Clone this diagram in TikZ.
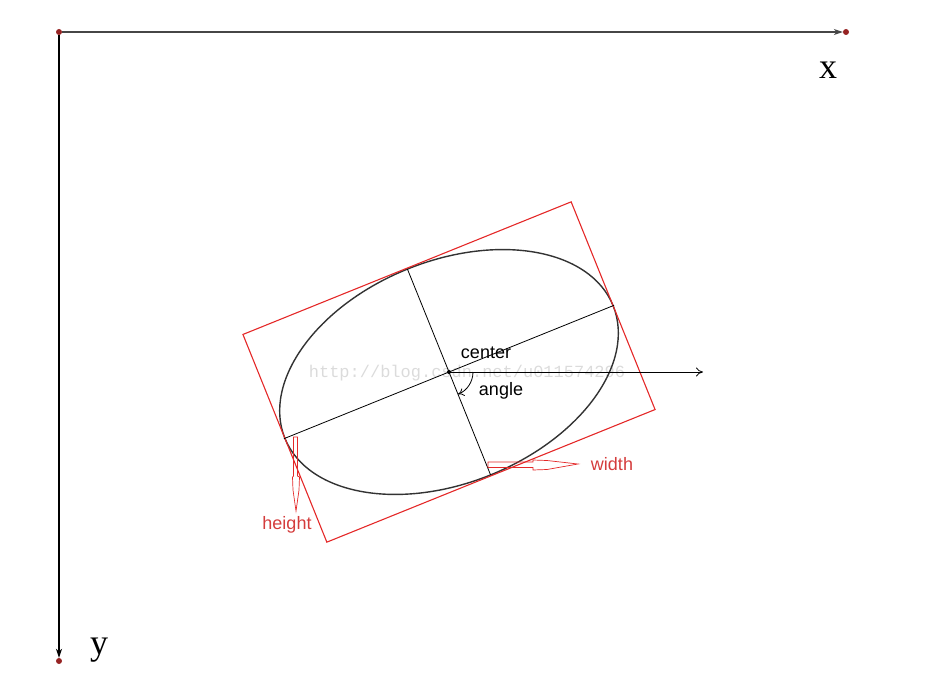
\documentclass[tikz,border=0pt]{standalone}
\usepackage{fontspec}
\setmainfont{Liberation Serif}
\setsansfont{Liberation Sans}
\setmonofont{Liberation Mono}
\usetikzlibrary{arrows.meta}

\definecolor{boxred}{RGB}{228,40,40}
\definecolor{labelred}{RGB}{212,60,60}
\definecolor{dotred}{RGB}{150,35,35}

\tikzset{
  axisline/.style={line width=1.3pt, -{Stealth[length=9pt,width=6pt]}},
  axisdot/.style={circle, fill=dotred, inner sep=0pt, minimum size=6pt},
  axislabel/.style={font=\rmfamily\fontsize{36}{40}\selectfont},
  smalllabel/.style={font=\sffamily\fontsize{18}{21}\selectfont},
  redshape/.style={draw=boxred, line width=0.8pt},
}

\begin{document}
\begin{tikzpicture}[x=1pt, y=-1pt]
  \useasboundingbox (0,0) rectangle (950,693);

  % watermark
  \node[text=gray!28, font=\ttfamily\fontsize{17}{20}\selectfont] (wm) at (467,373) {http://blog.csdn.net/u011574296};

  % axes
  \begin{scope}[every node/.style={axisdot}]
    \node (o)  at (59,32)  {};
    \node (xe) at (846,32) {};
    \node (ye) at (59,661) {};
  \end{scope}
  \draw[axisline, draw=gray!55!black] (o) -- (xe);
  \draw[axisline] (o) -- (ye);
  \node[axislabel] (xl) at (828,70) {x};
  \node[axislabel] (yl) at (99,650) {y};

  % rotated box and ellipse
  \node[circle, fill, inner sep=0pt, minimum size=4pt] (c) at (449,372) {};
  \begin{scope}[shift={(449,372)}, rotate=22]
    \coordinate (b1) at (-177,-112);
    \coordinate (b2) at (177,-112);
    \coordinate (b3) at (177,112);
    \coordinate (b4) at (-177,112);
    \coordinate (maj1) at (-178,0);
    \coordinate (maj2) at (178,0);
    \coordinate (min1) at (0,-111);
    \coordinate (min2) at (0,111);
    \draw[black!80, line width=1.4pt] (0,0) ellipse [x radius=177, y radius=111];
  \end{scope}
  \draw[redshape, line width=1.1pt] (b1) -- (b2) -- (b3) -- (b4) -- cycle;
  \draw[line width=0.8pt] (maj1) -- (maj2);
  \draw[line width=0.8pt] (min1) -- (min2);

  % angle
  \coordinate (hx) at (703,372);
  \draw[line width=0.8pt, -{To[length=7pt,width=9pt]}] (c.center) -- (hx);
  \draw[line width=0.8pt, -{To[length=6pt,width=8pt]}] (c.center) ++(24,0) arc[start angle=0, end angle=68, radius=24];
  \node[smalllabel] (lcenter) at (486,353) {center};
  \node[smalllabel] (langle)  at (501,391) {angle};

  % width and height marks
  \draw[redshape, line width=0.7pt] (488,462) -- (533,462) -- (533,460) -- (547,460.5)
    -- (578,464) -- (547,469.5) -- (533,470) -- (533,467.5) -- (488,467.5) -- cycle;
  \draw[redshape, line width=0.7pt] (293.5,437) -- (297.5,437) -- (297.5,476) -- (299.5,477)
    -- (299,490) -- (296,511) -- (293,490) -- (292.5,477) -- (293.5,476) -- cycle;
  \node[smalllabel, text=labelred] (lwidth)  at (612,464) {width};
  \node[smalllabel, text=labelred] (lheight) at (287,525) {height};

\end{tikzpicture}
\end{document}
